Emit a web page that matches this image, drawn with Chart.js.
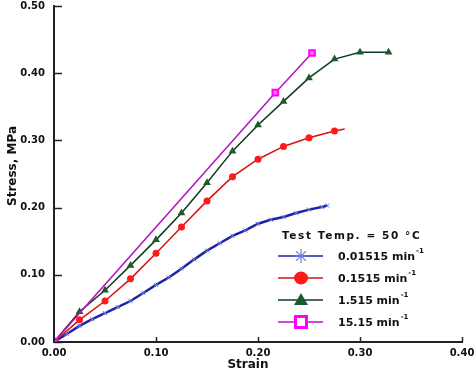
<!DOCTYPE html>
<html>
<head>
<meta charset="utf-8">
<script src="https://cdn.jsdelivr.net/npm/chart.js@4.4.1/dist/chart.umd.min.js"></script>
<style>
  html, body { margin: 0; padding: 0; background: #fff; }
  #wrap { width: 474px; height: 375px; }
</style>
</head>
<body>
<div id="wrap"><canvas id="canvas" width="474" height="375"></canvas></div>
<script>
// series values (strain, stress MPa)
var blueStrain = [0, 0.0125, 0.025, 0.0375, 0.05, 0.0625, 0.075, 0.0875, 0.1, 0.1125, 0.125, 0.1375, 0.15, 0.1625, 0.175, 0.1875, 0.2, 0.2125, 0.225, 0.2375, 0.25, 0.2625, 0.268];
var blueStress = [0, 0.012, 0.024, 0.034, 0.043, 0.052, 0.061, 0.073, 0.085, 0.096, 0.109, 0.123, 0.136, 0.147, 0.158, 0.166, 0.176, 0.182, 0.186, 0.192, 0.197, 0.201, 0.203];
var redStrain = [0, 0.025, 0.05, 0.075, 0.1, 0.125, 0.15, 0.175, 0.2, 0.225, 0.25, 0.275, 0.285];
var redStress = [0, 0.033, 0.061, 0.094, 0.132, 0.171, 0.21, 0.246, 0.272, 0.291, 0.304, 0.314, 0.317];
var greenStrain = [0, 0.025, 0.05, 0.075, 0.1, 0.125, 0.15, 0.175, 0.2, 0.225, 0.25, 0.275, 0.3, 0.328];
var greenStress = [0, 0.045, 0.077, 0.114, 0.152, 0.192, 0.237, 0.284, 0.323, 0.358, 0.393, 0.421, 0.431, 0.431];
var pinkStrain = [0, 0.217, 0.253];
var pinkStress = [0, 0.371, 0.430];

var seriesLabels = ["0.01515 min", "0.1515 min", "1.515 min", "15.15 min"];
var legendTitle = "Test Temp. = 50 \u00B0C";
var xTicks = [0, 0.1, 0.2, 0.3, 0.4];
var yTicks = [0, 0.1, 0.2, 0.3, 0.4, 0.5];

function pts(xs, ys) {
    return xs.map(function (x, i) { return { x: x, y: ys[i] }; });
}

var FONT = "'DejaVu Sans', Verdana, sans-serif";

// inward tick marks, axis titles and the boxed-in legend
var decor = {
    id: "decor",
    afterDraw: function (chart) {
        var c = chart.ctx;
        var xs = chart.scales.x, ys = chart.scales.y;
        var area = chart.chartArea;
        c.save();
        c.strokeStyle = "#222";
        c.lineWidth = 1.5;
        xTicks.forEach(function (v) {
            var px = Math.round(xs.getPixelForValue(v)) + 0.5;
            c.beginPath();
            c.moveTo(px, area.bottom);
            c.lineTo(px, area.bottom - 5);
            c.stroke();
        });
        yTicks.forEach(function (v) {
            var py = Math.round(ys.getPixelForValue(v)) + 0.5;
            c.beginPath();
            c.moveTo(area.left, py);
            c.lineTo(area.left + 8, py);
            c.stroke();
        });

        // axis titles
        c.fillStyle = "#111";
        c.font = "bold 12px " + FONT;
        c.textAlign = "center";
        c.textBaseline = "middle";
        c.fillText("Strain", 248, 365);
        c.save();
        c.translate(13, 166);
        c.rotate(-Math.PI / 2);
        c.fillText("Stress, MPa", 0, 0);
        c.restore();

        // legend
        c.textAlign = "left";
        c.font = "bold 10.5px " + FONT;
        c.letterSpacing = "1.6px";
        c.fillText(legendTitle, 282, 236);
        c.letterSpacing = "0px";
        var rows = [256, 278, 300, 322];
        chart.data.datasets.forEach(function (ds, i) {
            var y = rows[i];
            c.strokeStyle = ds.borderColor;
            c.lineWidth = 1.5;
            c.beginPath();
            c.moveTo(278, y);
            c.lineTo(323, y);
            c.stroke();
            var mx = 301;
            c.fillStyle = ds.pointBackgroundColor;
            c.strokeStyle = ds.pointBorderColor;
            c.lineWidth = 1.2;
            c.beginPath();
            if (i === 0) {
                for (var k = 0; k < 4; k++) {
                    var a = k * Math.PI / 4;
                    c.moveTo(mx - 7 * Math.cos(a), y - 7 * Math.sin(a));
                    c.lineTo(mx + 7 * Math.cos(a), y + 7 * Math.sin(a));
                }
                c.stroke();
            } else if (i === 1) {
                c.ellipse(mx, y, 7, 6.5, 0, 0, Math.PI * 2);
                c.fill();
            } else if (i === 2) {
                c.moveTo(mx, y - 7);
                c.lineTo(mx + 7, y + 5);
                c.lineTo(mx - 7, y + 5);
                c.closePath();
                c.fill();
            } else {
                c.lineWidth = 3;
                c.rect(mx - 5.5, y - 5.5, 11, 11);
                c.fillStyle = "#fff";
                c.fill();
                c.stroke();
            }
            c.fillStyle = "#111";
            c.font = "bold 11px " + FONT;
            c.textBaseline = "middle";
            c.fillText(ds.label, 338, y + 1);
            var w = c.measureText(ds.label).width;
            c.font = "bold 7px " + FONT;
            c.fillText("-1", w + 339, y - 5);
        });
        c.restore();
    }
};

var ctx = document.getElementById("canvas").getContext("2d");
new Chart(ctx, {
    type: "line",
    data: {
        datasets: [{
            label: seriesLabels[0],
            data: pts(blueStrain, blueStress),
            borderColor: "#1f22a8",
            borderWidth: 2.5,
            pointStyle: "crossRot",
            pointRadius: function (c) { return c.dataIndex === 0 ? 0 : 3; },
            pointBorderColor: "#6e80e0",
            pointBackgroundColor: "#6e80e0",
            pointBorderWidth: 1,
            order: 3
        }, {
            label: seriesLabels[1],
            data: pts(redStrain, redStress),
            borderColor: "#d81010",
            borderWidth: 1.5,
            pointStyle: "circle",
            pointRadius: function (c) { return (c.dataIndex === 0 || c.dataIndex === redStrain.length - 1) ? 0 : 3.5; },
            pointBorderColor: "#ff1a1a",
            pointBackgroundColor: "#ff1a1a",
            pointBorderWidth: 0,
            order: 2
        }, {
            label: seriesLabels[2],
            data: pts(greenStrain, greenStress),
            borderColor: "#0d3a20",
            borderWidth: 1.5,
            pointStyle: "triangle",
            pointRadius: function (c) { return c.dataIndex === 0 ? 0 : 4.5; },
            pointBorderColor: "#1d5a2e",
            pointBackgroundColor: "#1d5a2e",
            pointBorderWidth: 0,
            order: 1
        }, {
            label: seriesLabels[3],
            data: pts(pinkStrain, pinkStress),
            borderColor: "#b414c4",
            borderWidth: 1.5,
            pointStyle: "rect",
            pointRadius: 4,
            pointBorderColor: "#ff00ff",
            pointBackgroundColor: "#ff77ff",
            pointBorderWidth: 2,
            order: 0
        }]
    },
    options: {
        responsive: false,
        animation: false,
        layout: { padding: { top: 6, right: 12, left: 0, bottom: 0 } },
        plugins: { legend: { display: false }, tooltip: { enabled: false } },
        elements: { line: { tension: 0 } },
        scales: {
            x: {
                type: "linear",
                min: 0,
                max: 0.4,
                afterFit: function (s) { s.height = 33; s.paddingLeft = 0; s.paddingRight = 0; },
                afterBuildTicks: function (s) { s.ticks = xTicks.map(function (v) { return { value: v }; }); },
                ticks: {
                    color: "#111",
                    padding: 5,
                    maxRotation: 0,
                    font: { family: FONT, size: 10, weight: "bold" },
                    callback: function (v) { return v.toFixed(2); }
                },
                grid: { display: true, drawOnChartArea: false, drawTicks: false },
                border: { display: true, color: "#222", width: 2 }
            },
            y: {
                type: "linear",
                min: 0,
                max: 0.5,
                afterFit: function (s) { s.width = 54; s.paddingTop = 0; s.paddingBottom = 0; },
                afterBuildTicks: function (s) { s.ticks = yTicks.map(function (v) { return { value: v }; }); },
                ticks: {
                    color: "#111",
                    padding: 9,
                    font: { family: FONT, size: 10, weight: "bold" },
                    callback: function (v) { return v.toFixed(2); }
                },
                grid: { display: true, drawOnChartArea: false, drawTicks: false },
                border: { display: true, color: "#222", width: 2 }
            }
        }
    },
    plugins: [decor]
});
</script>
</body>
</html>
